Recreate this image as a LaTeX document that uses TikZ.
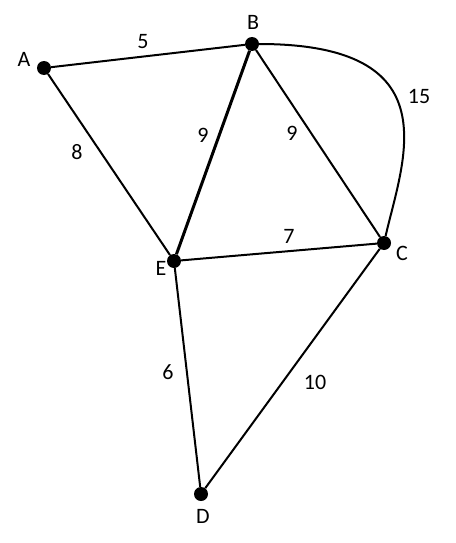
\documentclass[tikz,border=0pt]{standalone}
\usepackage{fontspec}
\setmainfont{Carlito}
\usepackage{tikz}
\usetikzlibrary{positioning}

\begin{document}
\begin{tikzpicture}[x=1pt,y=-1pt,
  vertex/.style={circle,fill=black,inner sep=0pt,minimum size=14pt},
  lbl/.style={font=\fontsize{22}{26}\selectfont,inner sep=0pt},
  edge/.style={line width=2pt}]
\useasboundingbox (0,0) rectangle (455,543);

% Vertices
\node[vertex] (A) at (44,68) {};
\node[vertex] (B) at (252,44) {};
\node[vertex] (C) at (384,243) {};
\node[vertex] (E) at (174,261) {};
\node[vertex] (D) at (201,494) {};

% Vertex names
\node[lbl] (nA) at (24,59) {A};
\node[lbl] (nB) at (253,22) {B};
\node[lbl] (nC) at (402,253) {C};
\node[lbl] (nE) at (161,268) {E};
\node[lbl] (nD) at (203,516) {D};

% Edges
\draw[edge] (A) -- (B);
\draw[edge] (A) -- (E);
\draw[line width=3pt] (B) -- (E);
\draw[edge] (B) -- (C);
\draw[edge] (E) -- (C);
\draw[edge] (E) -- (D);
\draw[edge] (C) -- (D);
\draw[edge] (B) .. controls (452,44) and (403,160) .. (C);

% Weights
\node[lbl] (wAB) at (143,42) {5};
\node[lbl] (wAE) at (77,152) {8};
\node[lbl] (wBE) at (203,135) {9};
\node[lbl] (wBC) at (292,133) {9};
\node[lbl] (wBCc) at (419,96) {15};
\node[lbl] (wEC) at (289,236) {7};
\node[lbl] (wED) at (168,372) {6};
\node[lbl] (wCD) at (315,382) {10};
\end{tikzpicture}
\end{document}
